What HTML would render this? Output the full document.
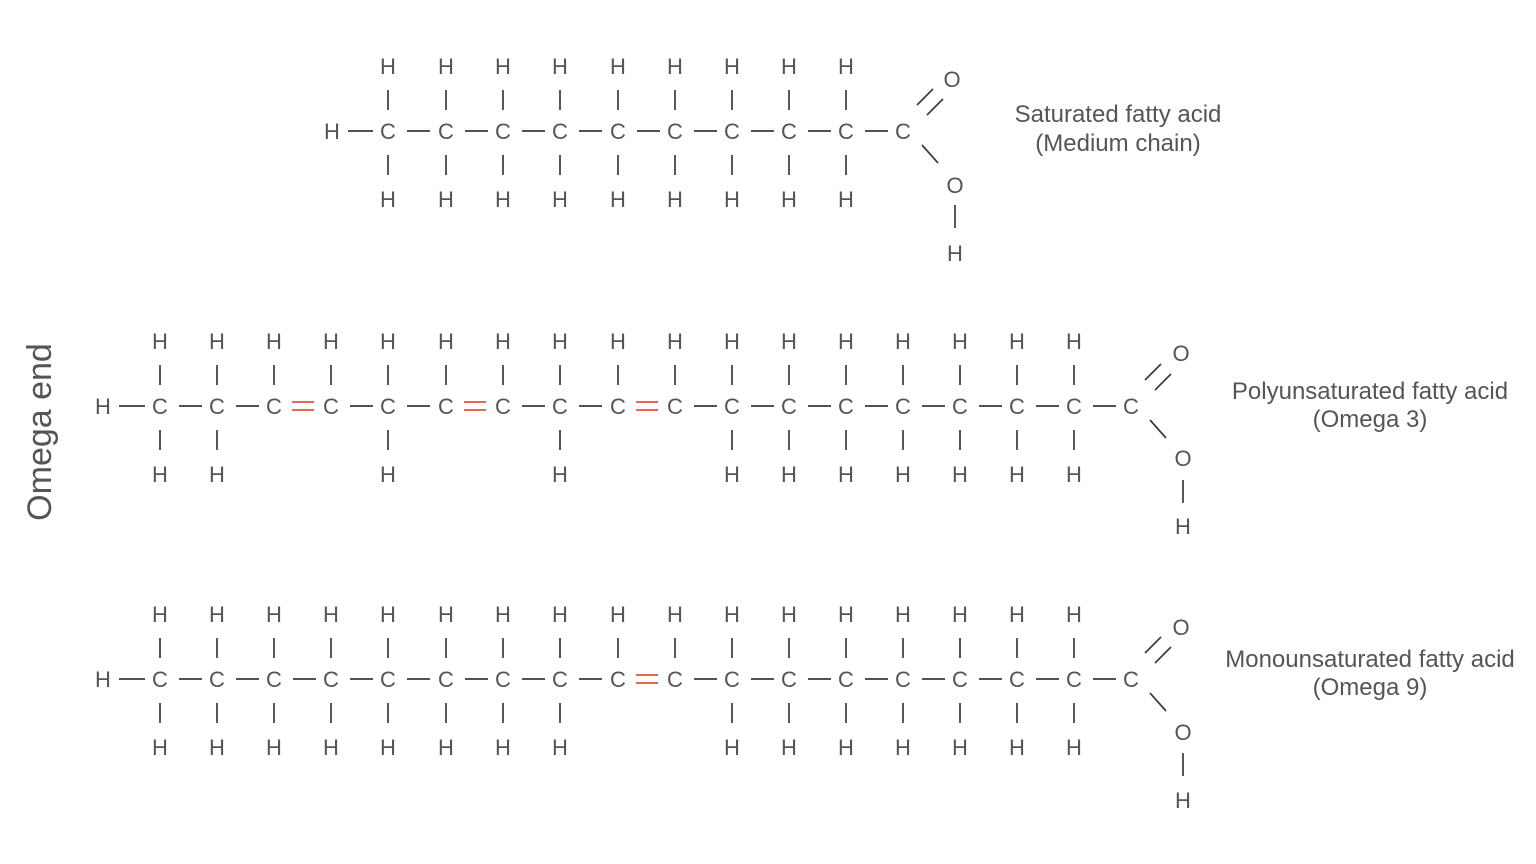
<!DOCTYPE html>
<html><head><meta charset="utf-8"><style>
html,body{margin:0;padding:0;background:#fff;width:1536px;height:864px;overflow:hidden}
svg{display:block}
text{font-family:"Liberation Sans",sans-serif;fill:#555;font-size:22px;text-anchor:middle}
line{stroke:#3a3a3a;stroke-width:1.7}
.r{stroke:#e0503c}
.lab{font-size:24px;fill:#555}
</style></head><body>
<svg width="1536" height="864" viewBox="0 0 1536 864">
<defs>
<g id="u"><line x1="0" y1="-41" x2="0" y2="-21"/><line x1="0" y1="24" x2="0" y2="44"/></g>
<g id="t"><line x1="0" y1="-41" x2="0" y2="-21"/></g>
<g id="b"><line x1="19" y1="0" x2="42" y2="0"/></g>
<g id="d"><line class="r" x1="18" y1="-4" x2="40" y2="-4"/><line class="r" x1="18" y1="4" x2="40" y2="4"/></g>
<g id="cx"><line x1="14" y1="-26" x2="30" y2="-42"/><line x1="24" y1="-16" x2="40" y2="-32"/><line x1="19" y1="14" x2="35" y2="32"/><line x1="52" y1="74" x2="52" y2="97"/></g>
</defs>

<!-- Row 1 -->
<g transform="translate(0,131)">
<text x="332" y="8">H</text><line x1="348" y1="0" x2="373" y2="0"/>
<use href="#u" x="388"/><use href="#u" x="446"/><use href="#u" x="503"/><use href="#u" x="560"/><use href="#u" x="618"/><use href="#u" x="675"/><use href="#u" x="732"/><use href="#u" x="789"/><use href="#u" x="846"/>
<use href="#b" x="388"/><use href="#b" x="446"/><use href="#b" x="503"/><use href="#b" x="560"/><use href="#b" x="618"/><use href="#b" x="675"/><use href="#b" x="732"/><use href="#b" x="789"/><use href="#b" x="846"/>
<text x="388" y="8">C</text><text x="446" y="8">C</text><text x="503" y="8">C</text><text x="560" y="8">C</text><text x="618" y="8">C</text><text x="675" y="8">C</text><text x="732" y="8">C</text><text x="789" y="8">C</text><text x="846" y="8">C</text><text x="903" y="8">C</text>
<text x="388" y="-57">H</text><text x="446" y="-57">H</text><text x="503" y="-57">H</text><text x="560" y="-57">H</text><text x="618" y="-57">H</text><text x="675" y="-57">H</text><text x="732" y="-57">H</text><text x="789" y="-57">H</text><text x="846" y="-57">H</text>
<text x="388" y="76">H</text><text x="446" y="76">H</text><text x="503" y="76">H</text><text x="560" y="76">H</text><text x="618" y="76">H</text><text x="675" y="76">H</text><text x="732" y="76">H</text><text x="789" y="76">H</text><text x="846" y="76">H</text>
<use href="#cx" x="903"/>
<text x="952" y="-44">O</text><text x="955" y="62">O</text><text x="955" y="130">H</text>
</g>
<text class="lab" x="1118" y="122">Saturated fatty acid</text>
<text class="lab" x="1118" y="151">(Medium chain)</text>

<!-- Row 2 -->
<g transform="translate(0,406)">
<text x="103" y="8">H</text><line x1="119" y1="0" x2="145" y2="0"/>
<use href="#u" x="160"/><use href="#u" x="217"/><use href="#t" x="274"/><use href="#t" x="331"/><use href="#u" x="388"/><use href="#t" x="446"/><use href="#t" x="503"/><use href="#u" x="560"/><use href="#t" x="618"/><use href="#t" x="675"/><use href="#u" x="732"/><use href="#u" x="789"/><use href="#u" x="846"/><use href="#u" x="903"/><use href="#u" x="960"/><use href="#u" x="1017"/><use href="#u" x="1074"/>
<use href="#b" x="160"/><use href="#b" x="217"/><use href="#d" x="274"/><use href="#b" x="331"/><use href="#b" x="388"/><use href="#d" x="446"/><use href="#b" x="503"/><use href="#b" x="560"/><use href="#d" x="618"/><use href="#b" x="675"/><use href="#b" x="732"/><use href="#b" x="789"/><use href="#b" x="846"/><use href="#b" x="903"/><use href="#b" x="960"/><use href="#b" x="1017"/><use href="#b" x="1074"/>
<text x="160" y="8">C</text><text x="217" y="8">C</text><text x="274" y="8">C</text><text x="331" y="8">C</text><text x="388" y="8">C</text><text x="446" y="8">C</text><text x="503" y="8">C</text><text x="560" y="8">C</text><text x="618" y="8">C</text><text x="675" y="8">C</text><text x="732" y="8">C</text><text x="789" y="8">C</text><text x="846" y="8">C</text><text x="903" y="8">C</text><text x="960" y="8">C</text><text x="1017" y="8">C</text><text x="1074" y="8">C</text><text x="1131" y="8">C</text>
<text x="160" y="-57">H</text><text x="217" y="-57">H</text><text x="274" y="-57">H</text><text x="331" y="-57">H</text><text x="388" y="-57">H</text><text x="446" y="-57">H</text><text x="503" y="-57">H</text><text x="560" y="-57">H</text><text x="618" y="-57">H</text><text x="675" y="-57">H</text><text x="732" y="-57">H</text><text x="789" y="-57">H</text><text x="846" y="-57">H</text><text x="903" y="-57">H</text><text x="960" y="-57">H</text><text x="1017" y="-57">H</text><text x="1074" y="-57">H</text>
<text x="160" y="76">H</text><text x="217" y="76">H</text><text x="388" y="76">H</text><text x="560" y="76">H</text><text x="732" y="76">H</text><text x="789" y="76">H</text><text x="846" y="76">H</text><text x="903" y="76">H</text><text x="960" y="76">H</text><text x="1017" y="76">H</text><text x="1074" y="76">H</text>
<use href="#cx" x="1131"/>
<text x="1181" y="-45">O</text><text x="1183" y="60">O</text><text x="1183" y="128">H</text>
</g>
<text class="lab" x="1370" y="399">Polyunsaturated fatty acid</text>
<text class="lab" x="1370" y="427">(Omega 3)</text>

<!-- Row 3 -->
<g transform="translate(0,679)">
<text x="103" y="8">H</text><line x1="119" y1="0" x2="145" y2="0"/>
<use href="#u" x="160"/><use href="#u" x="217"/><use href="#u" x="274"/><use href="#u" x="331"/><use href="#u" x="388"/><use href="#u" x="446"/><use href="#u" x="503"/><use href="#u" x="560"/><use href="#t" x="618"/><use href="#t" x="675"/><use href="#u" x="732"/><use href="#u" x="789"/><use href="#u" x="846"/><use href="#u" x="903"/><use href="#u" x="960"/><use href="#u" x="1017"/><use href="#u" x="1074"/>
<use href="#b" x="160"/><use href="#b" x="217"/><use href="#b" x="274"/><use href="#b" x="331"/><use href="#b" x="388"/><use href="#b" x="446"/><use href="#b" x="503"/><use href="#b" x="560"/><use href="#d" x="618"/><use href="#b" x="675"/><use href="#b" x="732"/><use href="#b" x="789"/><use href="#b" x="846"/><use href="#b" x="903"/><use href="#b" x="960"/><use href="#b" x="1017"/><use href="#b" x="1074"/>
<text x="160" y="8">C</text><text x="217" y="8">C</text><text x="274" y="8">C</text><text x="331" y="8">C</text><text x="388" y="8">C</text><text x="446" y="8">C</text><text x="503" y="8">C</text><text x="560" y="8">C</text><text x="618" y="8">C</text><text x="675" y="8">C</text><text x="732" y="8">C</text><text x="789" y="8">C</text><text x="846" y="8">C</text><text x="903" y="8">C</text><text x="960" y="8">C</text><text x="1017" y="8">C</text><text x="1074" y="8">C</text><text x="1131" y="8">C</text>
<text x="160" y="-57">H</text><text x="217" y="-57">H</text><text x="274" y="-57">H</text><text x="331" y="-57">H</text><text x="388" y="-57">H</text><text x="446" y="-57">H</text><text x="503" y="-57">H</text><text x="560" y="-57">H</text><text x="618" y="-57">H</text><text x="675" y="-57">H</text><text x="732" y="-57">H</text><text x="789" y="-57">H</text><text x="846" y="-57">H</text><text x="903" y="-57">H</text><text x="960" y="-57">H</text><text x="1017" y="-57">H</text><text x="1074" y="-57">H</text>
<text x="160" y="76">H</text><text x="217" y="76">H</text><text x="274" y="76">H</text><text x="331" y="76">H</text><text x="388" y="76">H</text><text x="446" y="76">H</text><text x="503" y="76">H</text><text x="560" y="76">H</text><text x="732" y="76">H</text><text x="789" y="76">H</text><text x="846" y="76">H</text><text x="903" y="76">H</text><text x="960" y="76">H</text><text x="1017" y="76">H</text><text x="1074" y="76">H</text>
<use href="#cx" x="1131"/>
<text x="1181" y="-44">O</text><text x="1183" y="61">O</text><text x="1183" y="129">H</text>
</g>
<text class="lab" x="1370" y="667">Monounsaturated fatty acid</text>
<text class="lab" x="1370" y="695">(Omega 9)</text>

<text x="0" y="0" style="font-size:34px" transform="translate(51,432) rotate(-90)">Omega end</text>
</svg>
</body></html>
